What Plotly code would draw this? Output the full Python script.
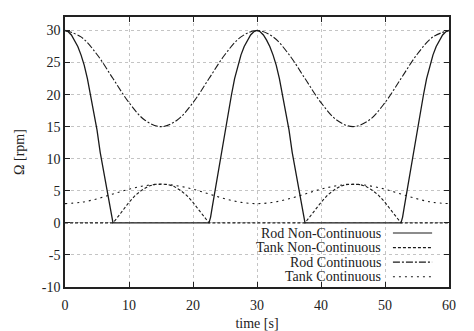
import plotly.graph_objects as go

# ---- data ----
rod_nc_t = [0, 0.5, 1, 1.5, 2, 2.5, 3, 3.5, 4, 4.5, 5, 5.5, 6, 6.5, 7, 7.25, 7.5,
            22.5, 22.75, 23, 23.5, 24, 24.5, 25, 25.5, 26, 26.5, 27, 27.5, 28, 28.5, 29, 29.5, 30,
            30.5, 31, 31.5, 32, 32.5, 33, 33.5, 34, 34.5, 35, 35.5, 36, 36.5, 37, 37.25, 37.5,
            52.5, 52.75, 53, 53.5, 54, 54.5, 55, 55.5, 56, 56.5, 57, 57.5, 58, 58.5, 59, 59.5, 60]
rod_nc_v = [30, 29.8, 29.3, 28.5, 27.5, 26.2, 24.6, 22.5, 19.9, 17.2, 14.5, 11.0, 8.2, 5.3, 2.4, 0.9, 0,
            0, 0.9, 2.4, 5.3, 8.2, 11.0, 14.5, 17.2, 19.9, 22.5, 24.6, 26.2, 27.5, 28.5, 29.3, 29.8, 30,
            29.8, 29.3, 28.5, 27.5, 26.2, 24.6, 22.5, 19.9, 17.2, 14.5, 11.0, 8.2, 5.3, 2.4, 0.9, 0,
            0, 0.9, 2.4, 5.3, 8.2, 11.0, 14.5, 17.2, 19.9, 22.5, 24.6, 26.2, 27.5, 28.5, 29.3, 29.8, 30]

tank_nc_t = [0, 7.5, 8, 9, 10, 11, 12, 13, 14, 15, 16, 17, 18, 19, 20, 21, 22, 22.5,
             37.5, 38, 39, 40, 41, 42, 43, 44, 45, 46, 47, 48, 49, 50, 51, 52, 52.5, 60]
tank_nc_v = [0, 0, 0.6, 1.9, 3.2, 4.3, 5.1, 5.7, 6.0, 6.05, 6.0, 5.7, 5.1, 4.3, 3.2, 1.9, 0.6, 0,
             0, 0.6, 1.9, 3.2, 4.3, 5.1, 5.7, 6.0, 6.05, 6.0, 5.7, 5.1, 4.3, 3.2, 1.9, 0.6, 0, 0]

cont_t = [0, 2.5, 5, 7.5, 10, 12.5, 15, 17.5, 20, 22.5, 25, 27.5, 30,
          32.5, 35, 37.5, 40, 42.5, 45, 47.5, 50, 52.5, 55, 57.5, 60]
rod_c_v = [30, 29.0, 26.25, 22.5, 18.75, 16.0, 15, 16.0, 18.75, 22.5, 26.25, 29.0, 30,
           29.0, 26.25, 22.5, 18.75, 16.0, 15, 16.0, 18.75, 22.5, 26.25, 29.0, 30]
tank_c_v = [3.0, 3.2, 3.75, 4.5, 5.25, 5.8, 6.0, 5.8, 5.25, 4.5, 3.75, 3.2, 3.0,
            3.2, 3.75, 4.5, 5.25, 5.8, 6.0, 5.8, 5.25, 4.5, 3.75, 3.2, 3.0]

series_names = ["Rod Non-Continuous", "Tank Non-Continuous", "Rod Continuous", "Tank Continuous"]
x_ticks = [0, 10, 20, 30, 40, 50, 60]
y_ticks = [-10, -5, 0, 5, 10, 15, 20, 25, 30]
y_tick_text = ["-10", "-5", "0", "5", "10", "15", "20", "25", "30"]

# ---- styles ----
FONT = "Times New Roman, Liberation Serif, serif"
LC = "#1a1a1a"
dashes = ["solid", "3px,2px", "7px,2px,2px,2px", "2px,4px"]

fig = go.Figure()
fig.add_trace(go.Scatter(x=cont_t, y=tank_c_v, mode="lines", line=dict(color=LC, width=1.1, dash=dashes[3], shape="spline"), name=series_names[3]))
fig.add_trace(go.Scatter(x=cont_t, y=rod_c_v, mode="lines", line=dict(color=LC, width=1.1, dash=dashes[2], shape="spline"), name=series_names[2]))
fig.add_trace(go.Scatter(x=tank_nc_t, y=tank_nc_v, mode="lines", line=dict(color=LC, width=1.1, dash=dashes[1]), name=series_names[1]))
fig.add_trace(go.Scatter(x=rod_nc_t, y=rod_nc_v, mode="lines", line=dict(color=LC, width=1.3, dash=dashes[0]), name=series_names[0]))

axis_common = dict(showline=True, linecolor="#222", linewidth=1.5, mirror="allticks",
                   ticks="inside", ticklen=5, tickcolor="#222", tickwidth=1,
                   showgrid=True, gridcolor="#c4c4c4", griddash="dot", gridwidth=1,
                   zeroline=False, automargin=False, tickfont=dict(family=FONT, size=14, color="#222"))

fig.update_xaxes(range=[0, 60], tickvals=x_ticks, ticklabelstandoff=4,
                 title=dict(text="time [s]", font=dict(family=FONT, size=14, color="#222"), standoff=8), **axis_common)
fig.update_yaxes(range=[-10, 32.1], tickvals=y_ticks, ticktext=y_tick_text,
                 title=dict(text="Ω [rpm]", font=dict(family=FONT, size=14, color="#222"), standoff=14), **axis_common)

# opaque key box + manual key (text on left, sample on right)
shapes = [dict(type="rect", xref="paper", yref="paper", x0=0.404, x1=0.996, y0=0.004, y1=0.225,
               fillcolor="white", line=dict(width=0), layer="between")]
annotations = []
rows_y = [0.200, 0.146, 0.092, 0.038]
for name, dsh, yy in zip(series_names, dashes, rows_y):
    annotations.append(dict(xref="paper", yref="paper", x=0.829, y=yy, text=name, showarrow=False,
                            xanchor="right", yanchor="middle", font=dict(family=FONT, size=14, color="#222")))
    shapes.append(dict(type="line", xref="paper", yref="paper", x0=0.854, x1=0.956, y0=yy, y1=yy,
                       line=dict(color=LC, width=1.1, dash=dsh), layer="above"))

fig.update_layout(width=474, height=331, margin=dict(l=65, r=25, t=17, b=44),
                  paper_bgcolor="white", plot_bgcolor="white", showlegend=False,
                  shapes=shapes, annotations=annotations,
                  font=dict(family=FONT, size=14, color="#222"))

fig.write_html("out.html")
